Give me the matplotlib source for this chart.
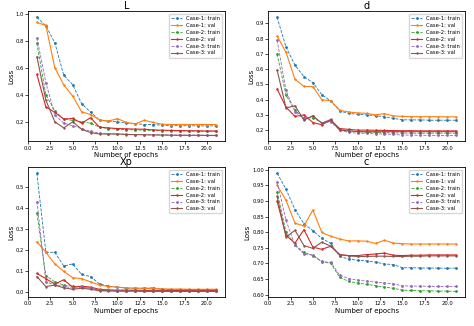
import numpy as np
import matplotlib.pyplot as plt

epochs = np.arange(1, 22)

L_c1_train = [0.973, 0.91, 0.785, 0.544, 0.474, 0.334, 0.272, 0.212, 0.205, 0.20, 0.19, 0.187, 0.18, 0.18, 0.175, 0.172, 0.171, 0.171, 0.170, 0.170, 0.170]
L_c1_val = [0.935, 0.913, 0.60, 0.474, 0.39, 0.274, 0.254, 0.214, 0.205, 0.224, 0.195, 0.185, 0.212, 0.195, 0.182, 0.180, 0.180, 0.180, 0.180, 0.180, 0.180]
L_c2_train = [0.78, 0.40, 0.28, 0.22, 0.21, 0.20, 0.19, 0.16, 0.15, 0.145, 0.142, 0.14, 0.138, 0.136, 0.134, 0.133, 0.132, 0.131, 0.130, 0.130, 0.130]
L_c2_val = [0.55, 0.31, 0.27, 0.22, 0.225, 0.19, 0.23, 0.16, 0.155, 0.15, 0.148, 0.146, 0.145, 0.14, 0.138, 0.136, 0.135, 0.134, 0.133, 0.132, 0.132]
L_c3_train = [0.82, 0.49, 0.25, 0.19, 0.17, 0.15, 0.13, 0.115, 0.112, 0.11, 0.108, 0.106, 0.105, 0.104, 0.103, 0.102, 0.102, 0.101, 0.101, 0.100, 0.100]
L_c3_val = [0.68, 0.36, 0.20, 0.155, 0.20, 0.145, 0.12, 0.11, 0.11, 0.11, 0.106, 0.105, 0.104, 0.103, 0.102, 0.101, 0.100, 0.100, 0.100, 0.099, 0.099]

d_c1_train = [0.94, 0.745, 0.626, 0.551, 0.511, 0.432, 0.392, 0.326, 0.31, 0.304, 0.30, 0.295, 0.288, 0.277, 0.268, 0.267, 0.267, 0.265, 0.265, 0.265, 0.265]
d_c1_val = [0.818, 0.71, 0.533, 0.487, 0.485, 0.40, 0.392, 0.33, 0.319, 0.313, 0.31, 0.30, 0.308, 0.293, 0.29, 0.288, 0.288, 0.288, 0.288, 0.287, 0.287]
d_c2_train = [0.70, 0.43, 0.33, 0.28, 0.28, 0.25, 0.26, 0.205, 0.195, 0.19, 0.185, 0.184, 0.183, 0.182, 0.181, 0.180, 0.180, 0.180, 0.180, 0.180, 0.180]
d_c2_val = [0.47, 0.35, 0.29, 0.30, 0.25, 0.235, 0.265, 0.21, 0.205, 0.20, 0.20, 0.199, 0.198, 0.197, 0.196, 0.196, 0.195, 0.195, 0.195, 0.195, 0.195]
d_c3_train = [0.79, 0.46, 0.32, 0.27, 0.29, 0.245, 0.255, 0.20, 0.185, 0.18, 0.178, 0.176, 0.174, 0.172, 0.168, 0.167, 0.166, 0.166, 0.165, 0.165, 0.165]
d_c3_val = [0.595, 0.345, 0.36, 0.265, 0.295, 0.245, 0.27, 0.20, 0.195, 0.19, 0.19, 0.19, 0.19, 0.19, 0.19, 0.19, 0.19, 0.19, 0.19, 0.19, 0.19]

Xp_c1_train = [0.564, 0.19, 0.19, 0.125, 0.135, 0.085, 0.075, 0.04, 0.03, 0.025, 0.02, 0.02, 0.02, 0.022, 0.015, 0.014, 0.013, 0.013, 0.012, 0.012, 0.012]
Xp_c1_val = [0.24, 0.19, 0.135, 0.10, 0.07, 0.065, 0.05, 0.035, 0.028, 0.025, 0.022, 0.02, 0.02, 0.018, 0.017, 0.016, 0.016, 0.015, 0.015, 0.015, 0.015]
Xp_c2_train = [0.375, 0.08, 0.05, 0.035, 0.03, 0.025, 0.02, 0.01, 0.01, 0.009, 0.009, 0.009, 0.008, 0.008, 0.008, 0.008, 0.008, 0.008, 0.008, 0.008, 0.008]
Xp_c2_val = [0.09, 0.065, 0.04, 0.06, 0.025, 0.03, 0.025, 0.015, 0.012, 0.011, 0.011, 0.011, 0.010, 0.010, 0.010, 0.010, 0.010, 0.010, 0.010, 0.010, 0.010]
Xp_c3_train = [0.43, 0.05, 0.035, 0.03, 0.02, 0.025, 0.02, 0.01, 0.01, 0.008, 0.007, 0.007, 0.006, 0.006, 0.006, 0.005, 0.005, 0.005, 0.005, 0.005, 0.005]
Xp_c3_val = [0.075, 0.028, 0.035, 0.022, 0.015, 0.02, 0.015, 0.008, 0.007, 0.006, 0.006, 0.006, 0.005, 0.005, 0.005, 0.005, 0.005, 0.005, 0.005, 0.005, 0.005]

c_c1_train = [0.989, 0.938, 0.872, 0.827, 0.805, 0.78, 0.764, 0.722, 0.714, 0.71, 0.708, 0.704, 0.698, 0.696, 0.686, 0.686, 0.685, 0.685, 0.685, 0.684, 0.685]
c_c1_val = [0.951, 0.902, 0.829, 0.82, 0.871, 0.799, 0.787, 0.778, 0.772, 0.772, 0.771, 0.764, 0.774, 0.765, 0.763, 0.762, 0.762, 0.762, 0.762, 0.762, 0.762]
c_c2_train = [0.93, 0.80, 0.76, 0.735, 0.725, 0.705, 0.70, 0.655, 0.642, 0.637, 0.633, 0.628, 0.624, 0.62, 0.614, 0.613, 0.612, 0.612, 0.611, 0.611, 0.610]
c_c2_val = [0.90, 0.79, 0.765, 0.808, 0.752, 0.745, 0.755, 0.728, 0.725, 0.725, 0.728, 0.73, 0.733, 0.726, 0.725, 0.726, 0.726, 0.727, 0.727, 0.727, 0.727]
c_c3_train = [0.962, 0.838, 0.758, 0.73, 0.727, 0.706, 0.703, 0.662, 0.651, 0.646, 0.643, 0.64, 0.637, 0.634, 0.628, 0.627, 0.627, 0.626, 0.626, 0.626, 0.626]
c_c3_val = [0.915, 0.784, 0.806, 0.757, 0.748, 0.768, 0.755, 0.728, 0.724, 0.722, 0.722, 0.723, 0.723, 0.722, 0.722, 0.723, 0.723, 0.724, 0.724, 0.724, 0.724]

labels = ["Case-1: train", "Case-1: val", "Case-2: train", "Case-2: val", "Case-3: train", "Case-3: val"]
panels = [
    ("L", [L_c1_train, L_c1_val, L_c2_train, L_c2_val, L_c3_train, L_c3_val]),
    ("d", [d_c1_train, d_c1_val, d_c2_train, d_c2_val, d_c3_train, d_c3_val]),
    ("Xp", [Xp_c1_train, Xp_c1_val, Xp_c2_train, Xp_c2_val, Xp_c3_train, Xp_c3_val]),
    ("c", [c_c1_train, c_c1_val, c_c2_train, c_c2_val, c_c3_train, c_c3_val]),
]

fig, axes = plt.subplots(2, 2, figsize=(4.74, 3.26), dpi=100)
plt.subplots_adjust(left=0.059, right=0.981, top=0.965, bottom=0.088, wspace=0.22, hspace=0.2)

for ax, (title, series) in zip(axes.flat, panels):
    for i, (lab, vals) in enumerate(zip(labels, series)):
        if i % 2 == 0:
            ax.plot(epochs, vals, "--", marker=".", ms=2, lw=0.6, color=f"C{i}", label=lab)
        else:
            ax.plot(epochs, vals, "-", marker="+", ms=2, lw=0.8, color=f"C{i}", label=lab)
    ax.set_title(title, fontsize=7, pad=2)
    ax.set_xlabel("Number of epochs", fontsize=5, labelpad=1)
    ax.set_ylabel("Loss", fontsize=5, labelpad=1)
    ax.tick_params(labelsize=3.8, length=2, width=0.5, pad=1)
    for s in ax.spines.values():
        s.set_linewidth(0.6)
    ax.legend(fontsize=3.8, loc="upper right", handlelength=2.0, labelspacing=0.35,
              borderpad=0.4, frameon=True)

plt.savefig("out.png")
